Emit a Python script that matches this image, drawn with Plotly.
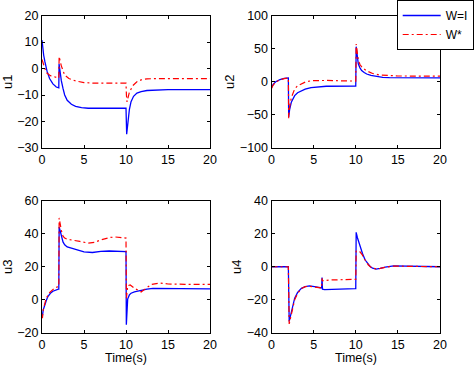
import plotly.graph_objects as go

W, H = 474, 365

# ---------------- data ----------------
legend_names = ["W=I", "W*"]
panel_labels = ["u1", "u2", "u3", "u4"]
x_title = "Time(s)"
x_ticks = [0, 5, 10, 15, 20]
y_ranges = [[-30, 20], [-100, 100], [-20, 60], [-40, 40]]
y_ticks = [[-30, -20, -10, 0, 10, 20], [-100, -50, 0, 50, 100],
           [-20, 0, 20, 40, 60], [-40, -20, 0, 20, 40]]

# u1
t_u1_wi = [0, 0.1, 0.2, 0.35, 0.6, 0.9, 1.3, 1.7, 1.95, 2.0, 2.03, 2.2, 2.3, 2.5, 2.7, 3.0, 3.5,
           4.0, 4.7, 5.5, 7, 9.95, 10.0, 10.08, 10.2, 10.4, 10.6, 10.9, 11.3, 11.8, 12.5, 13.5, 15, 20]
u1_wi = [10.7, 7.5, 5, 2.5, -1, -3.8, -5.8, -7, -7.3, -7.3, 1.8, -3.0, -4.6, -7.5, -10.0, -12.0, -13.5,
         -14.3, -14.8, -15, -15, -15, -15, -24.8, -20, -15.5, -12.5, -10.5, -9.3, -8.7, -8.3, -8.1, -8, -8]
t_u1_ws = [0, 0.2, 0.5, 1.0, 1.5, 1.95, 2.0, 2.04, 2.3, 2.7, 3.2, 4.0, 5.0, 6, 9.95, 10.0, 10.05,
           10.12, 10.4, 10.8, 11.3, 11.8, 12.5, 14, 20]
u1_ws = [3.4, 1.2, -1.5, -2.7, -3.3, -3.6, -3.6, 4.5, 1.0, -2.5, -3.8, -4.7, -5.3, -5.5, -5.5, -5.5, -10,
         -12.6, -9, -6.5, -5, -4.3, -3.9, -3.8, -3.8]

# u2
t_u2_wi = [0, 0.2, 0.5, 1.0, 1.5, 1.95, 2.0, 2.04, 2.15, 2.35, 2.55, 2.75, 3.1, 3.5, 4.0, 4.7, 5.5,
           6.5, 9.95, 10.0, 10.05, 10.15, 10.3, 10.5, 10.7, 11.0, 11.3, 11.8, 12.5, 13.2, 14, 20]
u2_wi = [-9, -4, 0, 3.2, 5.0, 5.8, 5.8, -53, -42, -31, -25, -21, -16.5, -13.5, -11, -8.8, -7.5,
         -6.8, -6.5, -6.5, 53, 38, 27, 21, 17, 14, 11.7, 9.5, 7.6, 6.7, 6.2, 6]
t_u2_ws = [0, 0.2, 0.5, 1.0, 1.5, 1.95, 2.0, 2.04, 2.15, 2.35, 2.55, 2.75, 3.1, 3.5, 4.0, 4.7, 5.5,
           6.5, 8, 9.95, 10.0, 10.05, 10.15, 10.3, 10.5, 10.8, 11.3, 12, 12.8, 13.7, 15, 20]
u2_ws = [-10, -5, -0.5, 3.0, 4.8, 5.6, 5.6, -55, -38, -24, -16, -11, -6, -3, -0.5, 1.5, 2.2,
         2.0, 1.5, 1.0, 1.0, 57, 45, 33, 26, 21, 16.5, 12.5, 10.3, 9.2, 8.7, 8.5]

# u3
t_u3_wi = [0, 0.05, 0.15, 0.3, 0.5, 0.7, 1.0, 1.3, 1.6, 1.95, 2.0, 2.04, 2.15, 2.3, 2.5, 2.7, 3.0,
           3.5, 4.0, 5.0, 6.0, 7.0, 8.0, 9.95, 10.0, 10.04, 10.1, 10.2, 10.4, 10.6, 11.0, 11.8,
           12.5, 13.2, 15, 20]
u3_wi = [-9, -9.5, -6, -3, -0.5, 2, 4, 5.2, 6, 6.5, 6.5, 44, 42, 38.5, 35, 33.3, 32,
         31.3, 30.5, 29, 28.6, 29.3, 29.5, 29.2, 29.2, -15, -6, 0.5, 3, 4, 4.8, 5.8,
         6.5, 7, 6.8, 6.7]
t_u3_ws = [0, 0.05, 0.15, 0.3, 0.5, 0.9, 1.2, 1.5, 1.95, 2.0, 2.04, 2.15, 2.3, 2.5, 2.7, 3.0, 3.5,
           4.5, 5.5, 6.3, 7.0, 8.0, 8.7, 9.95, 10.0, 10.05, 10.1, 10.2, 10.5, 11.0, 11.8, 12.3,
           13.0, 14, 15, 17, 20]
u3_ws = [-10, -11, -6, -2, 1, 4.3, 6, 7.2, 8, 8, 49.5, 46, 42, 38.5, 37.3, 36.6, 36.3,
         35.3, 34.3, 34.8, 36.2, 37.6, 38, 37.3, 37.3, 1, 6, 8.5, 9, 7, 4.8, 6.5,
         9.3, 10.2, 9.6, 9.4, 9.4]

# u4
t_u4_wi = [0, 1.95, 2.0, 2.1, 2.2, 2.4, 2.75, 3.1, 3.55, 4.0, 4.5, 5.1, 5.9, 5.95, 6.0, 6.05, 6.3,
           7, 8, 9.95, 10.0, 10.05, 10.2, 10.5, 10.8, 11.1, 11.4, 11.7, 12.0, 12.4, 12.9, 13.5,
           14.5, 15.5, 17, 20]
u4_wi = [0, 0, 0, -33, -31, -26, -19, -15.5, -13, -12, -11.5, -12, -12.8, -12.8, -6.5, -13.5, -13.8,
         -13.6, -13.3, -13.2, -13.2, 20.8, 17.5, 12.2, 8, 4.2, 1.8, 0.2, -0.9, -1.4, -1.0, -0.2,
         0.5, 0.4, 0.1, 0]
t_u4_ws = [0, 1.95, 2.0, 2.1, 2.2, 2.4, 2.75, 3.1, 3.55, 4.0, 4.5, 5.1, 5.9, 5.95, 6.0, 6.05, 7,
           8, 9.95, 10.0, 10.05, 10.3, 10.5, 10.8, 11.1, 11.5, 11.9, 12.4, 12.9, 13.5, 14.5, 15.5,
           17, 20]
u4_ws = [0, 0, 0, -34.5, -32, -27, -20, -16, -13.2, -12, -11.8, -12.2, -12.8, -12.8, -7.0, -8.5, -8.0,
         -7.8, -7.6, -7.6, 9.5, 9.5, 9, 7, 4.2, 1.0, -0.6, -1.3, -1.0, -0.3, 0.4, 0.3,
         0.1, 0]

series = [
    (t_u1_wi, u1_wi, t_u1_ws, u1_ws),
    (t_u2_wi, u2_wi, t_u2_ws, u2_ws),
    (t_u3_wi, u3_wi, t_u3_ws, u3_ws),
    (t_u4_wi, u4_wi, t_u4_ws, u4_ws),
]

# ---------------- layout geometry (pixels) ----------------
x_dom_px = [(42, 210), (271.5, 440), (42, 210), (271.5, 440)]
y_dom_px = [(15.5, 148), (15.5, 148), (200.5, 333), (200.5, 333)]

FONT = "Liberation Sans, Arial, Helvetica, sans-serif"
fig = go.Figure()

for i, (ta, ya, tb, yb) in enumerate(series):
    xa = "x" if i == 0 else f"x{i+1}"
    ya_ = "y" if i == 0 else f"y{i+1}"
    fig.add_trace(go.Scatter(x=ta, y=ya, xaxis=xa, yaxis=ya_, mode="lines",
                             line=dict(color="#0000ff", width=1.3),
                             name=legend_names[0], legendgroup="a", showlegend=(i == 1)))
    fig.add_trace(go.Scatter(x=tb, y=yb, xaxis=xa, yaxis=ya_, mode="lines",
                             line=dict(color="#ff0000", width=1.2, dash="6px,3px,2px,3px"),
                             name=legend_names[1], legendgroup="b", showlegend=(i == 1)))

layout = dict(
    width=W, height=H, margin=dict(l=0, r=0, t=0, b=0),
    paper_bgcolor="white", plot_bgcolor="white",
    font=dict(family=FONT, size=12.5, color="black"),
    showlegend=True,
    legend=dict(x=396.7 / W, y=1.0, xanchor="left", yanchor="top",
                bordercolor="black", borderwidth=1, bgcolor="white",
                font=dict(size=12), tracegroupgap=0, itemwidth=38),
    annotations=[],
)

for i in range(4):
    xk = "xaxis" if i == 0 else f"xaxis{i+1}"
    yk = "yaxis" if i == 0 else f"yaxis{i+1}"
    ya_ = "y" if i == 0 else f"y{i+1}"
    xa = "x" if i == 0 else f"x{i+1}"
    x0, x1 = x_dom_px[i]
    y0, y1 = y_dom_px[i]
    common = dict(showline=True, linecolor="black", linewidth=1, mirror="ticks",
                  ticks="inside", ticklen=3, tickcolor="black", showgrid=False,
                  zeroline=False, automargin=False, tickfont=dict(size=12.5))
    layout[xk] = dict(domain=[x0 / W, x1 / W], range=[0, 20], tickvals=x_ticks,
                      anchor=ya_, **common)
    layout[yk] = dict(domain=[1 - y1 / H, 1 - y0 / H], range=y_ranges[i],
                      tickvals=y_ticks[i], anchor=xa, **common,
                      title=dict(text=panel_labels[i], standoff=2, font=dict(size=13)))
    if i >= 2:
        layout["annotations"].append(dict(
            text=x_title, xref="paper", yref="paper",
            x=(x0 + x1) / 2 / W, y=1 - 358 / H, xanchor="center", yanchor="middle",
            showarrow=False, font=dict(size=12.5)))

fig.update_layout(**layout)
fig.write_html("out.html", config={"displayModeBar": False},
               post_script="document.body.style.margin='0';document.body.style.padding='0';")
